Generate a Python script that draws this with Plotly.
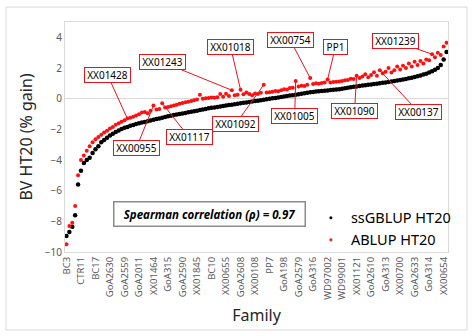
import plotly.graph_objects as go

# ssGBLUP HT20 breeding values (families sorted by ssGBLUP)
ssgblup = [-8.95, -8.7, -8.35, -7.6, -5.6, -4.7, -4.2, -4.0, -3.85, -3.55,
           -3.3, -3.1, -2.85, -2.7, -2.55, -2.4, -2.28, -2.18, -2.08, -1.98,
           -1.9, -1.84, -1.77, -1.72, -1.66, -1.61, -1.56, -1.52, -1.48, -1.43,
           -1.38, -1.33, -1.29, -1.25, -1.2, -1.15, -1.11, -1.07, -1.03, -1.0,
           -0.97, -0.93, -0.89, -0.85, -0.82, -0.78, -0.74, -0.71, -0.67, -0.63,
           -0.6, -0.57, -0.54, -0.51, -0.48, -0.45, -0.42, -0.39, -0.36, -0.33,
           -0.3, -0.27, -0.25, -0.22, -0.19, -0.16, -0.13, -0.1, -0.07, -0.04,
           -0.01, 0.02, 0.05, 0.08, 0.11, 0.14, 0.17, 0.2, 0.23, 0.26,
           0.29, 0.32, 0.35, 0.38, 0.42, 0.44, 0.46, 0.48, 0.5, 0.52,
           0.54, 0.56, 0.58, 0.6, 0.62, 0.65, 0.68, 0.71, 0.74, 0.77,
           0.8, 0.83, 0.86, 0.88, 0.9, 0.92, 0.95, 0.98, 1.0, 1.03,
           1.06, 1.09, 1.12, 1.15, 1.18, 1.21, 1.25, 1.29, 1.33, 1.37,
           1.41, 1.46, 1.51, 1.57, 1.63, 1.7, 1.78, 1.88, 2.0, 2.2,
           2.55, 3.05]

# ABLUP HT20 breeding values (same family order)
ablup = [-9.5, -8.3, -8.1, -7.0, -5.0, -4.0, -3.7, -3.4, -3.1, -2.85,
         -2.65, -2.5, -2.35, -2.2, -2.1, -1.95, -1.85, -1.7, -1.6, -1.5,
         -1.4, -1.3, -1.25, -1.18, -1.1, -1.02, -0.9, -0.87, -0.95, -0.78,
         -0.45, -0.7, -0.68, -0.3, -0.58, -0.55, -0.5, -0.45, -0.4, -0.33,
         -0.28, -0.24, -0.2, -0.15, -0.1, -0.05, 0.25, 0.0, 0.02, 0.05,
         0.07, 0.06, 0.1, 0.3, 0.12, 0.32, 0.18, 0.55, 0.22, 0.25,
         0.58, 0.28, 0.4, 0.3, 0.22, 0.33, 0.3, 0.38, 0.9, 0.4,
         0.42, 0.45, 0.5, 0.48, 0.55, 0.62, 0.6, 0.7, 0.72, 1.15,
         0.8, 0.84, 0.82, 0.9, 1.35, 0.95, 1.0, 0.98, 1.02, 1.05,
         1.25, 1.05, 1.08, 1.1, 1.12, 1.15, 1.2, 1.22, 1.3, 1.28,
         1.5, 1.35, 1.45, 1.6, 1.4, 1.55, 1.72, 1.5, 1.85, 1.65,
         1.75, 2.0, 1.7, 1.85, 2.1, 1.9, 2.15, 2.0, 2.3, 2.1,
         2.4, 2.2, 2.45, 2.3, 2.55, 2.5, 2.9, 2.7, 3.0, 2.85,
         3.4, 3.65]

tick_labels = ["BC3", "CTR11", "BC17", "GoA2630", "GoA2559", "GoA2011", "XX01464",
               "GoA315", "GoA2590", "XX01845", "BC10", "XX00655", "GoA2608",
               "XX00108", "PP7", "GoA198", "GoA2579", "GoA316", "WD97002",
               "WD99001", "XX01121", "GoA2610", "GoA313", "XX00700", "GoA2633",
               "GoA314", "XX00654"]
tick_step = 5

# highlighted families: name, index in family order
callout_names = ["XX01428", "XX00955", "XX01117", "XX01243", "XX01018", "XX01092",
                 "XX01005", "XX00754", "PP1", "XX01090", "XX00137", "XX01239"]
callout_index = [21, 30, 33, 57, 60, 68, 79, 84, 90, 100, 108, 126]
# label box offsets (pixels)
callout_ax = [-20, -17, 27, -69, -10, -28, -1, -20, 8, -2, 39, -37]
callout_ay = [-44, 42, 34, -28, -43, 39, 35, -38, -33, 35, 42, -13]

idx = list(range(len(ssgblup)))
tickvals = [i * tick_step for i in range(len(tick_labels))]

FONT = "Noto Sans"
BLACK = "black"
RED = "#ff1010"
fig = go.Figure()
fig.add_trace(go.Scatter(x=idx, y=ssgblup, mode="markers", name="ssGBLUP HT20",
                         showlegend=False, marker=dict(color=BLACK, size=4.5)))
fig.add_trace(go.Scatter(x=idx, y=ablup, mode="markers", name="ABLUP HT20",
                         showlegend=False, marker=dict(color=RED, size=4)))
# legend entries with small dots
fig.add_trace(go.Scatter(x=[None], y=[None], mode="markers", name="ssGBLUP HT20",
                         marker=dict(color=BLACK, size=3)))
fig.add_trace(go.Scatter(x=[None], y=[None], mode="markers", name="ABLUP HT20",
                         marker=dict(color=RED, size=3)))

annotations = []
for name, i, ax, ay in zip(callout_names, callout_index, callout_ax, callout_ay):
    annotations.append(dict(
        x=i, y=ablup[i], xref="x", yref="y", text=name, showarrow=True,
        arrowhead=0, arrowwidth=1, arrowcolor="#e8141c", ax=ax, ay=ay,
        axref="pixel", ayref="pixel",
        font=dict(family=FONT, size=10, color="black"),
        bgcolor="white", bordercolor="#e8141c", borderwidth=1, borderpad=1,
        width=(21 if len(name) < 5 else 43), height=12))

annotations.append(dict(
    x=0.376, y=0.109, xref="paper", yref="paper", showarrow=False,
    text="<b><i>Spearman correlation (ρ) = 0.97</i></b>",
    font=dict(family=FONT, size=11.5, color="black"),
    bgcolor="white", bordercolor="#8c8c8c", borderwidth=1.5, borderpad=2,
    width=186, height=19))

fig.update_layout(
    width=474, height=336,
    margin=dict(l=65, r=26, t=22, b=84),
    paper_bgcolor="white", plot_bgcolor="white",
    font=dict(family=FONT, color="#595959"),
    showlegend=True,
    legend=dict(x=0.642, y=0.218, xanchor="left", yanchor="top",
                bgcolor="rgba(0,0,0,0)", itemwidth=30,
                font=dict(family=FONT, size=14.5, color="black"),
                tracegroupgap=0),
    annotations=annotations,
    shapes=[dict(type="rect", xref="paper", yref="paper",
                 x0=-0.154, x1=1.0496, y0=-0.339, y1=1.065,
                 line=dict(color="#d9d9d9", width=1), layer="below")],
)
fig.update_xaxes(range=[-0.5, len(ssgblup) - 0.5], tickvals=tickvals,
                 ticktext=tick_labels, tickangle=-90, showgrid=False,
                 zeroline=False, showline=True, mirror=True, linecolor="#d9d9d9",
                 ticks="", tickfont=dict(family=FONT, size=9.5, color="#595959"),
                 title=dict(text="Family", standoff=11,
                            font=dict(family=FONT, size=16, color="#262626")))
fig.update_yaxes(range=[-10, 5], tickvals=[-10, -8, -6, -4, -2, 0, 2, 4],
                 showgrid=False, zeroline=True, zerolinecolor="#d9d9d9",
                 zerolinewidth=1, showline=True, mirror=True, linecolor="#d9d9d9",
                 ticks="", tickfont=dict(family=FONT, size=10, color="#595959"),
                 title=dict(text="BV HT20 (% gain)", standoff=8,
                            font=dict(family=FONT, size=16, color="#262626")))

fig.write_html("out.html")
